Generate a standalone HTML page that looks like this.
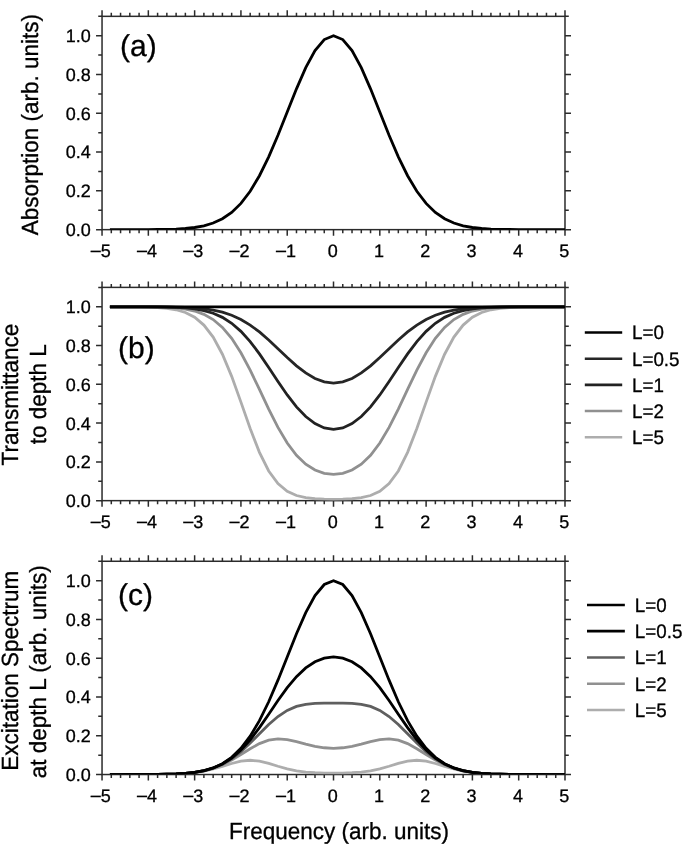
<!DOCTYPE html>
<html><head><meta charset="utf-8"><style>
html,body{margin:0;padding:0;background:#fff;}
body{width:685px;height:852px;overflow:hidden;}
svg{display:block;}
text{font-family:"Liberation Sans", Arial, Helvetica, sans-serif;fill:#000;text-rendering:geometricPrecision;stroke:#000;stroke-width:0.3px;}
.t{font-size:18px;}
.pl{font-size:30px;}
.yl{font-size:22.5px;}
.lg{font-size:18.8px;}
</style></head><body>
<svg width="685" height="852" viewBox="0 0 685 852">
<defs>
<clipPath id="clipa"><rect x="102.04" y="16.34" width="462.95" height="213.31"/></clipPath>
<clipPath id="clipb"><rect x="102.04" y="287.39" width="462.95" height="213.26"/></clipPath>
<clipPath id="clipc"><rect x="102.04" y="561.27" width="462.95" height="213.26"/></clipPath>
</defs>
<rect x="102.04" y="16.34" width="462.95" height="213.31" fill="none" stroke="#2b2b2b" stroke-width="1.5"/>
<path d="M102.04 229.65v6M102.04 16.34v-6M111.3 229.65v3.5M111.3 16.34v-3.5M120.56 229.65v3.5M120.56 16.34v-3.5M129.82 229.65v3.5M129.82 16.34v-3.5M139.08 229.65v3.5M139.08 16.34v-3.5M148.34 229.65v6M148.34 16.34v-6M157.59 229.65v3.5M157.59 16.34v-3.5M166.85 229.65v3.5M166.85 16.34v-3.5M176.11 229.65v3.5M176.11 16.34v-3.5M185.37 229.65v3.5M185.37 16.34v-3.5M194.63 229.65v6M194.63 16.34v-6M203.89 229.65v3.5M203.89 16.34v-3.5M213.15 229.65v3.5M213.15 16.34v-3.5M222.41 229.65v3.5M222.41 16.34v-3.5M231.67 229.65v3.5M231.67 16.34v-3.5M240.93 229.65v6M240.93 16.34v-6M250.18 229.65v3.5M250.18 16.34v-3.5M259.44 229.65v3.5M259.44 16.34v-3.5M268.7 229.65v3.5M268.7 16.34v-3.5M277.96 229.65v3.5M277.96 16.34v-3.5M287.22 229.65v6M287.22 16.34v-6M296.48 229.65v3.5M296.48 16.34v-3.5M305.74 229.65v3.5M305.74 16.34v-3.5M315 229.65v3.5M315 16.34v-3.5M324.26 229.65v3.5M324.26 16.34v-3.5M333.51 229.65v6M333.51 16.34v-6M342.77 229.65v3.5M342.77 16.34v-3.5M352.03 229.65v3.5M352.03 16.34v-3.5M361.29 229.65v3.5M361.29 16.34v-3.5M370.55 229.65v3.5M370.55 16.34v-3.5M379.81 229.65v6M379.81 16.34v-6M389.07 229.65v3.5M389.07 16.34v-3.5M398.33 229.65v3.5M398.33 16.34v-3.5M407.59 229.65v3.5M407.59 16.34v-3.5M416.85 229.65v3.5M416.85 16.34v-3.5M426.11 229.65v6M426.11 16.34v-6M435.36 229.65v3.5M435.36 16.34v-3.5M444.62 229.65v3.5M444.62 16.34v-3.5M453.88 229.65v3.5M453.88 16.34v-3.5M463.14 229.65v3.5M463.14 16.34v-3.5M472.4 229.65v6M472.4 16.34v-6M481.66 229.65v3.5M481.66 16.34v-3.5M490.92 229.65v3.5M490.92 16.34v-3.5M500.18 229.65v3.5M500.18 16.34v-3.5M509.44 229.65v3.5M509.44 16.34v-3.5M518.69 229.65v6M518.69 16.34v-6M527.95 229.65v3.5M527.95 16.34v-3.5M537.21 229.65v3.5M537.21 16.34v-3.5M546.47 229.65v3.5M546.47 16.34v-3.5M555.73 229.65v3.5M555.73 16.34v-3.5M564.99 229.65v6M564.99 16.34v-6M102.04 229.65h-6M564.99 229.65h6M102.04 210.26h-3.8M564.99 210.26h3.8M102.04 190.87h-6M564.99 190.87h6M102.04 171.47h-3.8M564.99 171.47h3.8M102.04 152.08h-6M564.99 152.08h6M102.04 132.69h-3.8M564.99 132.69h3.8M102.04 113.3h-6M564.99 113.3h6M102.04 93.91h-3.8M564.99 93.91h3.8M102.04 74.52h-6M564.99 74.52h6M102.04 55.12h-3.8M564.99 55.12h3.8M102.04 35.73h-6M564.99 35.73h6M102.04 16.34h-3.8M564.99 16.34h3.8" stroke="#2b2b2b" stroke-width="1.5" fill="none"/>
<rect x="102.04" y="287.39" width="462.95" height="213.26" fill="none" stroke="#2b2b2b" stroke-width="1.5"/>
<path d="M102.04 500.65v6M102.04 287.39v-6M111.3 500.65v3.5M111.3 287.39v-3.5M120.56 500.65v3.5M120.56 287.39v-3.5M129.82 500.65v3.5M129.82 287.39v-3.5M139.08 500.65v3.5M139.08 287.39v-3.5M148.34 500.65v6M148.34 287.39v-6M157.59 500.65v3.5M157.59 287.39v-3.5M166.85 500.65v3.5M166.85 287.39v-3.5M176.11 500.65v3.5M176.11 287.39v-3.5M185.37 500.65v3.5M185.37 287.39v-3.5M194.63 500.65v6M194.63 287.39v-6M203.89 500.65v3.5M203.89 287.39v-3.5M213.15 500.65v3.5M213.15 287.39v-3.5M222.41 500.65v3.5M222.41 287.39v-3.5M231.67 500.65v3.5M231.67 287.39v-3.5M240.93 500.65v6M240.93 287.39v-6M250.18 500.65v3.5M250.18 287.39v-3.5M259.44 500.65v3.5M259.44 287.39v-3.5M268.7 500.65v3.5M268.7 287.39v-3.5M277.96 500.65v3.5M277.96 287.39v-3.5M287.22 500.65v6M287.22 287.39v-6M296.48 500.65v3.5M296.48 287.39v-3.5M305.74 500.65v3.5M305.74 287.39v-3.5M315 500.65v3.5M315 287.39v-3.5M324.26 500.65v3.5M324.26 287.39v-3.5M333.51 500.65v6M333.51 287.39v-6M342.77 500.65v3.5M342.77 287.39v-3.5M352.03 500.65v3.5M352.03 287.39v-3.5M361.29 500.65v3.5M361.29 287.39v-3.5M370.55 500.65v3.5M370.55 287.39v-3.5M379.81 500.65v6M379.81 287.39v-6M389.07 500.65v3.5M389.07 287.39v-3.5M398.33 500.65v3.5M398.33 287.39v-3.5M407.59 500.65v3.5M407.59 287.39v-3.5M416.85 500.65v3.5M416.85 287.39v-3.5M426.11 500.65v6M426.11 287.39v-6M435.36 500.65v3.5M435.36 287.39v-3.5M444.62 500.65v3.5M444.62 287.39v-3.5M453.88 500.65v3.5M453.88 287.39v-3.5M463.14 500.65v3.5M463.14 287.39v-3.5M472.4 500.65v6M472.4 287.39v-6M481.66 500.65v3.5M481.66 287.39v-3.5M490.92 500.65v3.5M490.92 287.39v-3.5M500.18 500.65v3.5M500.18 287.39v-3.5M509.44 500.65v3.5M509.44 287.39v-3.5M518.69 500.65v6M518.69 287.39v-6M527.95 500.65v3.5M527.95 287.39v-3.5M537.21 500.65v3.5M537.21 287.39v-3.5M546.47 500.65v3.5M546.47 287.39v-3.5M555.73 500.65v3.5M555.73 287.39v-3.5M564.99 500.65v6M564.99 287.39v-6M102.04 500.65h-6M564.99 500.65h6M102.04 481.26h-3.8M564.99 481.26h3.8M102.04 461.88h-6M564.99 461.88h6M102.04 442.49h-3.8M564.99 442.49h3.8M102.04 423.1h-6M564.99 423.1h6M102.04 403.71h-3.8M564.99 403.71h3.8M102.04 384.33h-6M564.99 384.33h6M102.04 364.94h-3.8M564.99 364.94h3.8M102.04 345.55h-6M564.99 345.55h6M102.04 326.16h-3.8M564.99 326.16h3.8M102.04 306.78h-6M564.99 306.78h6M102.04 287.39h-3.8M564.99 287.39h3.8" stroke="#2b2b2b" stroke-width="1.5" fill="none"/>
<rect x="102.04" y="561.27" width="462.95" height="213.26" fill="none" stroke="#2b2b2b" stroke-width="1.5"/>
<path d="M102.04 774.53v6M102.04 561.27v-6M111.3 774.53v3.5M111.3 561.27v-3.5M120.56 774.53v3.5M120.56 561.27v-3.5M129.82 774.53v3.5M129.82 561.27v-3.5M139.08 774.53v3.5M139.08 561.27v-3.5M148.34 774.53v6M148.34 561.27v-6M157.59 774.53v3.5M157.59 561.27v-3.5M166.85 774.53v3.5M166.85 561.27v-3.5M176.11 774.53v3.5M176.11 561.27v-3.5M185.37 774.53v3.5M185.37 561.27v-3.5M194.63 774.53v6M194.63 561.27v-6M203.89 774.53v3.5M203.89 561.27v-3.5M213.15 774.53v3.5M213.15 561.27v-3.5M222.41 774.53v3.5M222.41 561.27v-3.5M231.67 774.53v3.5M231.67 561.27v-3.5M240.93 774.53v6M240.93 561.27v-6M250.18 774.53v3.5M250.18 561.27v-3.5M259.44 774.53v3.5M259.44 561.27v-3.5M268.7 774.53v3.5M268.7 561.27v-3.5M277.96 774.53v3.5M277.96 561.27v-3.5M287.22 774.53v6M287.22 561.27v-6M296.48 774.53v3.5M296.48 561.27v-3.5M305.74 774.53v3.5M305.74 561.27v-3.5M315 774.53v3.5M315 561.27v-3.5M324.26 774.53v3.5M324.26 561.27v-3.5M333.51 774.53v6M333.51 561.27v-6M342.77 774.53v3.5M342.77 561.27v-3.5M352.03 774.53v3.5M352.03 561.27v-3.5M361.29 774.53v3.5M361.29 561.27v-3.5M370.55 774.53v3.5M370.55 561.27v-3.5M379.81 774.53v6M379.81 561.27v-6M389.07 774.53v3.5M389.07 561.27v-3.5M398.33 774.53v3.5M398.33 561.27v-3.5M407.59 774.53v3.5M407.59 561.27v-3.5M416.85 774.53v3.5M416.85 561.27v-3.5M426.11 774.53v6M426.11 561.27v-6M435.36 774.53v3.5M435.36 561.27v-3.5M444.62 774.53v3.5M444.62 561.27v-3.5M453.88 774.53v3.5M453.88 561.27v-3.5M463.14 774.53v3.5M463.14 561.27v-3.5M472.4 774.53v6M472.4 561.27v-6M481.66 774.53v3.5M481.66 561.27v-3.5M490.92 774.53v3.5M490.92 561.27v-3.5M500.18 774.53v3.5M500.18 561.27v-3.5M509.44 774.53v3.5M509.44 561.27v-3.5M518.69 774.53v6M518.69 561.27v-6M527.95 774.53v3.5M527.95 561.27v-3.5M537.21 774.53v3.5M537.21 561.27v-3.5M546.47 774.53v3.5M546.47 561.27v-3.5M555.73 774.53v3.5M555.73 561.27v-3.5M564.99 774.53v6M564.99 561.27v-6M102.04 774.53h-6M564.99 774.53h6M102.04 755.14h-3.8M564.99 755.14h3.8M102.04 735.76h-6M564.99 735.76h6M102.04 716.37h-3.8M564.99 716.37h3.8M102.04 696.98h-6M564.99 696.98h6M102.04 677.59h-3.8M564.99 677.59h3.8M102.04 658.21h-6M564.99 658.21h6M102.04 638.82h-3.8M564.99 638.82h3.8M102.04 619.43h-6M564.99 619.43h6M102.04 600.04h-3.8M564.99 600.04h3.8M102.04 580.66h-6M564.99 580.66h6M102.04 561.27h-3.8M564.99 561.27h3.8" stroke="#2b2b2b" stroke-width="1.5" fill="none"/>
<polyline points="109.91,229.65 120.56,229.65 129.82,229.64 139.08,229.62 148.34,229.58 157.59,229.51 166.85,229.35 176.11,229.05 185.37,228.49 194.63,227.5 203.89,225.8 213.15,223.05 222.41,218.76 231.67,212.41 240.93,203.41 250.18,191.27 259.44,175.73 268.7,156.87 277.96,135.26 287.22,112.03 296.48,88.84 305.74,67.68 315,50.64 324.26,39.57 333.52,35.73 342.77,39.57 352.03,50.64 361.29,67.68 370.55,88.84 379.81,112.03 389.07,135.26 398.33,156.87 407.59,175.73 416.85,191.27 426.11,203.41 435.36,212.41 444.62,218.76 453.88,223.05 463.14,225.8 472.4,227.5 481.66,228.49 490.92,229.05 500.18,229.35 509.44,229.51 518.69,229.58 527.95,229.62 537.21,229.64 546.47,229.65 555.73,229.65 564.99,229.65" fill="none" stroke="#000" stroke-width="2.8" clip-path="url(#clipa)"/>
<polyline points="109.91,306.79 120.56,306.8 129.82,306.84 139.08,306.92 148.34,307.1 157.59,307.49 166.85,308.26 176.11,309.75 185.37,312.48 194.63,317.25 203.89,325.09 213.15,337.13 222.41,354.22 231.67,376.36 240.93,402.1 250.18,428.57 259.44,452.37 268.7,470.96 277.96,483.65 287.22,491.31 296.48,495.51 305.74,497.67 315,498.73 324.26,499.21 333.52,499.34 342.77,499.21 352.03,498.73 361.29,497.67 370.55,495.51 379.81,491.31 389.07,483.65 398.33,470.96 407.59,452.37 416.85,428.57 426.11,402.1 435.36,376.36 444.62,354.22 453.88,337.13 463.14,325.09 472.4,317.25 481.66,312.48 490.92,309.75 500.18,308.26 509.44,307.49 518.69,307.1 527.95,306.92 537.21,306.84 546.47,306.8 555.73,306.79 564.99,306.78" fill="none" stroke="#adadad" stroke-width="2.8" clip-path="url(#clipb)"/>
<polyline points="109.91,306.78 120.56,306.79 129.82,306.8 139.08,306.83 148.34,306.91 157.59,307.06 166.85,307.37 176.11,307.97 185.37,309.08 194.63,311.04 203.89,314.32 213.15,319.54 222.41,327.37 231.67,338.36 240.93,352.75 250.18,370.15 259.44,389.47 268.7,409.13 277.96,427.41 287.22,443.01 296.48,455.28 305.74,464.17 315,470.05 324.26,473.35 333.52,474.41 342.77,473.35 352.03,470.05 361.29,464.17 370.55,455.28 379.81,443.01 389.07,427.41 398.33,409.13 407.59,389.47 416.85,370.15 426.11,352.75 435.36,338.36 444.62,327.37 453.88,319.54 463.14,314.32 472.4,311.04 481.66,309.08 490.92,307.97 500.18,307.37 509.44,307.06 518.69,306.91 527.95,306.83 537.21,306.8 546.47,306.79 555.73,306.78 564.99,306.78" fill="none" stroke="#909090" stroke-width="2.8" clip-path="url(#clipb)"/>
<polyline points="109.91,306.78 120.56,306.78 129.82,306.79 139.08,306.81 148.34,306.84 157.59,306.92 166.85,307.07 176.11,307.38 185.37,307.93 194.63,308.92 203.89,310.59 213.15,313.27 222.41,317.36 231.67,323.27 240.93,331.32 250.18,341.59 259.44,353.84 268.7,367.44 277.96,381.49 287.22,394.94 296.48,406.86 305.74,416.56 315,423.63 324.26,427.9 333.52,429.33 342.77,427.9 352.03,423.63 361.29,416.56 370.55,406.86 379.81,394.94 389.07,381.49 398.33,367.44 407.59,353.84 416.85,341.59 426.11,331.32 435.36,323.27 444.62,317.36 453.88,313.27 463.14,310.59 472.4,308.92 481.66,307.93 490.92,307.38 500.18,307.07 509.44,306.92 518.69,306.84 527.95,306.81 537.21,306.79 546.47,306.78 555.73,306.78 564.99,306.78" fill="none" stroke="#222" stroke-width="2.8" clip-path="url(#clipb)"/>
<polyline points="109.91,306.78 120.56,306.78 129.82,306.78 139.08,306.79 148.34,306.81 157.59,306.85 166.85,306.93 176.11,307.08 185.37,307.36 194.63,307.85 203.89,308.69 213.15,310.05 222.41,312.14 231.67,315.21 240.93,319.46 250.18,325.04 259.44,331.94 268.7,339.95 277.96,348.66 287.22,357.49 296.48,365.8 305.74,372.96 315,378.45 324.26,381.89 333.52,383.06 342.77,381.89 352.03,378.45 361.29,372.96 370.55,365.8 379.81,357.49 389.07,348.66 398.33,339.95 407.59,331.94 416.85,325.04 426.11,319.46 435.36,315.21 444.62,312.14 453.88,310.05 463.14,308.69 472.4,307.85 481.66,307.36 490.92,307.08 500.18,306.93 509.44,306.85 518.69,306.81 527.95,306.79 537.21,306.78 546.47,306.78 555.73,306.78 564.99,306.78" fill="none" stroke="#262626" stroke-width="2.8" clip-path="url(#clipb)"/>
<polyline points="109.91,306.78 120.56,306.78 129.82,306.78 139.08,306.78 148.34,306.78 157.59,306.78 166.85,306.78 176.11,306.78 185.37,306.78 194.63,306.78 203.89,306.78 213.15,306.78 222.41,306.78 231.67,306.78 240.93,306.78 250.18,306.78 259.44,306.78 268.7,306.78 277.96,306.78 287.22,306.78 296.48,306.78 305.74,306.78 315,306.78 324.26,306.78 333.52,306.78 342.77,306.78 352.03,306.78 361.29,306.78 370.55,306.78 379.81,306.78 389.07,306.78 398.33,306.78 407.59,306.78 416.85,306.78 426.11,306.78 435.36,306.78 444.62,306.78 453.88,306.78 463.14,306.78 472.4,306.78 481.66,306.78 490.92,306.78 500.18,306.78 509.44,306.78 518.69,306.78 527.95,306.78 537.21,306.78 546.47,306.78 555.73,306.78 564.99,306.78" fill="none" stroke="#000" stroke-width="2.8" clip-path="url(#clipb)"/>
<polyline points="109.91,774.53 120.56,774.53 129.82,774.52 139.08,774.5 148.34,774.47 157.59,774.39 166.85,774.23 176.11,773.94 185.37,773.41 194.63,772.49 203.89,771.05 213.15,768.96 222.41,766.31 231.67,763.48 240.93,761.19 250.18,760.27 259.44,761.11 268.7,763.39 277.96,766.25 287.22,768.86 296.48,770.8 305.74,772.04 315,772.76 324.26,773.12 333.52,773.22 342.77,773.12 352.03,772.76 361.29,772.04 370.55,770.8 379.81,768.86 389.07,766.25 398.33,763.39 407.59,761.11 416.85,760.27 426.11,761.19 435.36,763.48 444.62,766.31 453.88,768.96 463.14,771.05 472.4,772.49 481.66,773.41 490.92,773.94 500.18,774.23 509.44,774.39 518.69,774.47 527.95,774.5 537.21,774.52 546.47,774.53 555.73,774.53 564.99,774.53" fill="none" stroke="#adadad" stroke-width="2.8" clip-path="url(#clipc)"/>
<polyline points="109.91,774.53 120.56,774.53 129.82,774.52 139.08,774.5 148.34,774.47 157.59,774.39 166.85,774.23 176.11,773.93 185.37,773.39 194.63,772.42 203.89,770.83 213.15,768.36 222.41,764.8 231.67,760.1 240.93,754.51 250.18,748.7 259.44,743.62 268.7,740.18 277.96,738.88 287.22,739.57 296.48,741.58 305.74,744.06 315,746.28 324.26,747.77 333.52,748.29 342.77,747.77 352.03,746.28 361.29,744.06 370.55,741.58 379.81,739.57 389.07,738.88 398.33,740.18 407.59,743.62 416.85,748.7 426.11,754.51 435.36,760.1 444.62,764.8 453.88,768.36 463.14,770.83 472.4,772.42 481.66,773.39 490.92,773.93 500.18,774.23 509.44,774.39 518.69,774.47 527.95,774.5 537.21,774.52 546.47,774.53 555.73,774.53 564.99,774.53" fill="none" stroke="#909090" stroke-width="2.8" clip-path="url(#clipc)"/>
<polyline points="109.91,774.53 120.56,774.53 129.82,774.52 139.08,774.5 148.34,774.46 157.59,774.39 166.85,774.23 176.11,773.93 185.37,773.38 194.63,772.4 203.89,770.76 213.15,768.15 222.41,764.24 231.67,758.76 240.93,751.61 250.18,743.05 259.44,733.71 268.7,724.54 277.96,716.53 287.22,710.42 296.48,706.42 305.74,704.29 315,703.43 324.26,703.22 333.52,703.21 342.77,703.22 352.03,703.43 361.29,704.29 370.55,706.42 379.81,710.42 389.07,716.53 398.33,724.54 407.59,733.71 416.85,743.05 426.11,751.61 435.36,758.76 444.62,764.24 453.88,768.15 463.14,770.76 472.4,772.4 481.66,773.38 490.92,773.93 500.18,774.23 509.44,774.39 518.69,774.46 527.95,774.5 537.21,774.52 546.47,774.53 555.73,774.53 564.99,774.53" fill="none" stroke="#5f5f5f" stroke-width="2.8" clip-path="url(#clipc)"/>
<polyline points="109.91,774.53 120.56,774.53 129.82,774.52 139.08,774.5 148.34,774.46 157.59,774.39 166.85,774.23 176.11,773.93 185.37,773.37 194.63,772.39 203.89,770.72 213.15,768.04 222.41,763.95 231.67,758.04 240.93,750.01 250.18,739.78 259.44,727.62 268.7,714.22 277.96,700.55 287.22,687.7 296.48,676.61 305.74,667.88 315,661.73 324.26,658.12 333.52,656.94 342.77,658.12 352.03,661.73 361.29,667.88 370.55,676.61 379.81,687.7 389.07,700.55 398.33,714.22 407.59,727.62 416.85,739.78 426.11,750.01 435.36,758.04 444.62,763.95 453.88,768.04 463.14,770.72 472.4,772.39 481.66,773.37 490.92,773.93 500.18,774.23 509.44,774.39 518.69,774.46 527.95,774.5 537.21,774.52 546.47,774.53 555.73,774.53 564.99,774.53" fill="none" stroke="#000" stroke-width="2.8" clip-path="url(#clipc)"/>
<polyline points="109.91,774.53 120.56,774.53 129.82,774.52 139.08,774.5 148.34,774.46 157.59,774.39 166.85,774.23 176.11,773.93 185.37,773.37 194.63,772.38 203.89,770.68 213.15,767.93 222.41,763.65 231.67,757.29 240.93,748.29 250.18,736.16 259.44,720.63 268.7,701.77 277.96,680.16 287.22,656.94 296.48,633.75 305.74,612.59 315,595.56 324.26,584.5 333.52,580.66 342.77,584.5 352.03,595.56 361.29,612.59 370.55,633.75 379.81,656.94 389.07,680.16 398.33,701.77 407.59,720.63 416.85,736.16 426.11,748.29 435.36,757.29 444.62,763.65 453.88,767.93 463.14,770.68 472.4,772.38 481.66,773.37 490.92,773.93 500.18,774.23 509.44,774.39 518.69,774.46 527.95,774.5 537.21,774.52 546.47,774.53 555.73,774.53 564.99,774.53" fill="none" stroke="#000" stroke-width="2.8" clip-path="url(#clipc)"/>
<text transform="translate(100.74,256.65)" text-anchor="middle" class="t"><tspan dy="-0.8">–</tspan><tspan dy="0.8">5</tspan></text>
<text transform="translate(147.03,256.65)" text-anchor="middle" class="t"><tspan dy="-0.8">–</tspan><tspan dy="0.8">4</tspan></text>
<text transform="translate(193.33,256.65)" text-anchor="middle" class="t"><tspan dy="-0.8">–</tspan><tspan dy="0.8">3</tspan></text>
<text transform="translate(239.62,256.65)" text-anchor="middle" class="t"><tspan dy="-0.8">–</tspan><tspan dy="0.8">2</tspan></text>
<text transform="translate(285.92,256.65)" text-anchor="middle" class="t"><tspan dy="-0.8">–</tspan><tspan dy="0.8">1</tspan></text>
<text transform="translate(332.71,256.65)" text-anchor="middle" class="t">0</text>
<text transform="translate(379.01,256.65)" text-anchor="middle" class="t">1</text>
<text transform="translate(425.31,256.65)" text-anchor="middle" class="t">2</text>
<text transform="translate(471.6,256.65)" text-anchor="middle" class="t">3</text>
<text transform="translate(517.89,256.65)" text-anchor="middle" class="t">4</text>
<text transform="translate(564.19,256.65)" text-anchor="middle" class="t">5</text>
<text transform="translate(90.8,236.05)" text-anchor="end" class="t">0.0</text>
<text transform="translate(90.8,197.27)" text-anchor="end" class="t">0.2</text>
<text transform="translate(90.8,158.48)" text-anchor="end" class="t">0.4</text>
<text transform="translate(90.8,119.7)" text-anchor="end" class="t">0.6</text>
<text transform="translate(90.8,80.92)" text-anchor="end" class="t">0.8</text>
<text transform="translate(90.8,42.13)" text-anchor="end" class="t">1.0</text>
<text transform="translate(100.74,527.65)" text-anchor="middle" class="t"><tspan dy="-0.8">–</tspan><tspan dy="0.8">5</tspan></text>
<text transform="translate(147.03,527.65)" text-anchor="middle" class="t"><tspan dy="-0.8">–</tspan><tspan dy="0.8">4</tspan></text>
<text transform="translate(193.33,527.65)" text-anchor="middle" class="t"><tspan dy="-0.8">–</tspan><tspan dy="0.8">3</tspan></text>
<text transform="translate(239.62,527.65)" text-anchor="middle" class="t"><tspan dy="-0.8">–</tspan><tspan dy="0.8">2</tspan></text>
<text transform="translate(285.92,527.65)" text-anchor="middle" class="t"><tspan dy="-0.8">–</tspan><tspan dy="0.8">1</tspan></text>
<text transform="translate(332.71,527.65)" text-anchor="middle" class="t">0</text>
<text transform="translate(379.01,527.65)" text-anchor="middle" class="t">1</text>
<text transform="translate(425.31,527.65)" text-anchor="middle" class="t">2</text>
<text transform="translate(471.6,527.65)" text-anchor="middle" class="t">3</text>
<text transform="translate(517.89,527.65)" text-anchor="middle" class="t">4</text>
<text transform="translate(564.19,527.65)" text-anchor="middle" class="t">5</text>
<text transform="translate(90.8,507.05)" text-anchor="end" class="t">0.0</text>
<text transform="translate(90.8,468.28)" text-anchor="end" class="t">0.2</text>
<text transform="translate(90.8,429.5)" text-anchor="end" class="t">0.4</text>
<text transform="translate(90.8,390.73)" text-anchor="end" class="t">0.6</text>
<text transform="translate(90.8,351.95)" text-anchor="end" class="t">0.8</text>
<text transform="translate(90.8,313.18)" text-anchor="end" class="t">1.0</text>
<text transform="translate(100.74,801.53)" text-anchor="middle" class="t"><tspan dy="-0.8">–</tspan><tspan dy="0.8">5</tspan></text>
<text transform="translate(147.03,801.53)" text-anchor="middle" class="t"><tspan dy="-0.8">–</tspan><tspan dy="0.8">4</tspan></text>
<text transform="translate(193.33,801.53)" text-anchor="middle" class="t"><tspan dy="-0.8">–</tspan><tspan dy="0.8">3</tspan></text>
<text transform="translate(239.62,801.53)" text-anchor="middle" class="t"><tspan dy="-0.8">–</tspan><tspan dy="0.8">2</tspan></text>
<text transform="translate(285.92,801.53)" text-anchor="middle" class="t"><tspan dy="-0.8">–</tspan><tspan dy="0.8">1</tspan></text>
<text transform="translate(332.71,801.53)" text-anchor="middle" class="t">0</text>
<text transform="translate(379.01,801.53)" text-anchor="middle" class="t">1</text>
<text transform="translate(425.31,801.53)" text-anchor="middle" class="t">2</text>
<text transform="translate(471.6,801.53)" text-anchor="middle" class="t">3</text>
<text transform="translate(517.89,801.53)" text-anchor="middle" class="t">4</text>
<text transform="translate(564.19,801.53)" text-anchor="middle" class="t">5</text>
<text transform="translate(90.8,780.93)" text-anchor="end" class="t">0.0</text>
<text transform="translate(90.8,742.16)" text-anchor="end" class="t">0.2</text>
<text transform="translate(90.8,703.38)" text-anchor="end" class="t">0.4</text>
<text transform="translate(90.8,664.61)" text-anchor="end" class="t">0.6</text>
<text transform="translate(90.8,625.83)" text-anchor="end" class="t">0.8</text>
<text transform="translate(90.8,587.06)" text-anchor="end" class="t">1.0</text>
<line x1="584.8" y1="332.5" x2="622.2" y2="332.5" stroke="#000" stroke-width="2.6"/>
<text transform="translate(632,339.4) scale(1,1.04)" class="lg">L=0</text>
<line x1="584.8" y1="358.7" x2="622.2" y2="358.7" stroke="#262626" stroke-width="2.6"/>
<text transform="translate(632,365.6) scale(1,1.04)" class="lg">L=0.5</text>
<line x1="584.8" y1="384.85" x2="622.2" y2="384.85" stroke="#222" stroke-width="2.6"/>
<text transform="translate(632,391.75) scale(1,1.04)" class="lg">L=1</text>
<line x1="584.8" y1="411" x2="622.2" y2="411" stroke="#909090" stroke-width="2.6"/>
<text transform="translate(632,417.9) scale(1,1.04)" class="lg">L=2</text>
<line x1="584.8" y1="437.3" x2="622.2" y2="437.3" stroke="#adadad" stroke-width="2.6"/>
<text transform="translate(632,444.2) scale(1,1.04)" class="lg">L=5</text>
<line x1="587" y1="605" x2="624.85" y2="605" stroke="#000" stroke-width="2.6"/>
<text transform="translate(634.8,611.9) scale(1,1.04)" class="lg">L=0</text>
<line x1="587" y1="631.1" x2="624.85" y2="631.1" stroke="#000" stroke-width="2.6"/>
<text transform="translate(634.8,638) scale(1,1.04)" class="lg">L=0.5</text>
<line x1="587" y1="657.55" x2="624.85" y2="657.55" stroke="#5f5f5f" stroke-width="2.6"/>
<text transform="translate(634.8,664.45) scale(1,1.04)" class="lg">L=1</text>
<line x1="587" y1="683.76" x2="624.85" y2="683.76" stroke="#909090" stroke-width="2.6"/>
<text transform="translate(634.8,690.66) scale(1,1.04)" class="lg">L=2</text>
<line x1="587" y1="710" x2="624.85" y2="710" stroke="#adadad" stroke-width="2.6"/>
<text transform="translate(634.8,716.9) scale(1,1.04)" class="lg">L=5</text>
<text transform="translate(120,55.7)" class="pl">(a)</text>
<text transform="translate(118,357.8)" class="pl">(b)</text>
<text transform="translate(118,605.3)" class="pl">(c)</text>
<text transform="translate(37.8,124.6) rotate(-90) scale(1,1.04)" text-anchor="middle" class="yl">Absorption (arb. units)</text>
<text transform="translate(17.9,394.6) rotate(-90) scale(1,1.04)" text-anchor="middle" class="yl">Transmittance</text>
<text transform="translate(46.2,394.3) rotate(-90) scale(1,1.04)" text-anchor="middle" class="yl">to depth L</text>
<text transform="translate(17.7,670.8) rotate(-90) scale(1,1.04)" text-anchor="middle" class="yl">Excitation Spectrum</text>
<text transform="translate(45.8,671.8) rotate(-90) scale(1,1.04)" text-anchor="middle" class="yl">at depth L (arb. units)</text>
<text transform="translate(339,838.9) scale(1,1.04)" text-anchor="middle" class="yl">Frequency (arb. units)</text>
</svg>
</body></html>
